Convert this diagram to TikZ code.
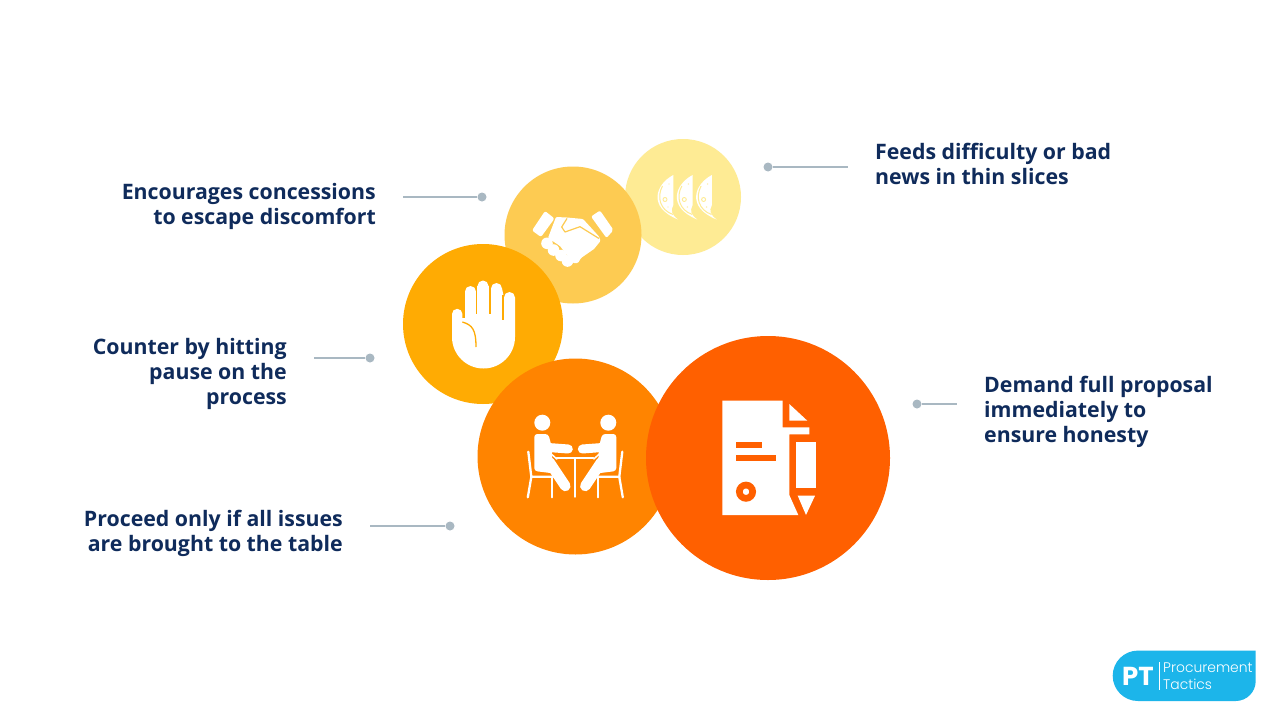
\documentclass[tikz,border=0pt]{standalone}
\usepackage{fontspec}
\setmainfont{Open Sans}
\newfontfamily\logofont{Poppins}
\newfontfamily\logolight{Poppins Light}

\definecolor{navy}{HTML}{0F2B5B}
\definecolor{dotgrey}{HTML}{A9B8C2}
\definecolor{paleyellow}{HTML}{FEEB94}
\definecolor{softorange}{HTML}{FDCB52}
\definecolor{amber}{HTML}{FFAB03}
\definecolor{midorange}{HTML}{FF8400}
\definecolor{deeporange}{HTML}{FF6000}
\definecolor{logoblue}{HTML}{1CB5EA}

\tikzset{
  disc/.style = {circle, inner sep=0pt, minimum size=#1},
  point/.style = {circle, fill=dotgrey, minimum size=9pt, inner sep=0pt},
  lead/.style = {draw=dotgrey, line width=1.5pt},
  caption/.style = {text=navy, inner sep=0pt, font=\fontsize{21.3}{25}\selectfont\bfseries},
  limb/.style = {draw=white, line width=#1, line cap=round},
  stick/.style = {draw=white, line width=2.3pt, line cap=round}
}

\begin{document}
\begin{tikzpicture}[x=1pt,y=-1pt]

\useasboundingbox (0,0) rectangle (1280,720);
\fill[white] (0,0) rectangle (1280,720);

% discs
\node[disc=116pt, fill=paleyellow] (D1) at (683,197) {};
\node[disc=137pt, fill=softorange] (D2) at (573,235) {};
\node[disc=160pt, fill=amber] (D3) at (483,324) {};
\node[disc=196pt, fill=midorange] (D4) at (575.5,456.5) {};
\node[disc=244pt, fill=deeporange] (D5) at (768,458) {};

% slices
\foreach \dx in {0,19.3,38.6} {
  \begin{scope}[xshift=\dx pt]
    \fill[white] (673.3,175) .. controls (656,184) and (647,207) .. (678,219.5)
      .. controls (672,215) and (670,211) .. (673.3,205) -- cycle;
    \draw[paleyellow, line width=1pt] (662.5,186) .. controls (656.5,197) and (660,210) .. (673,214.5);
    \draw[paleyellow, line width=0.9pt] (665,199.5) circle (2);
    \fill[paleyellow] (669,184) circle (0.7);
    \fill[paleyellow] (668,207) circle (0.7);
  \end{scope}
}

% handshake
\fill[white, rounded corners=2pt] (545,211) -- (554.5,218.5) -- (541,237) -- (532,230.5) -- cycle;
\fill[white, rounded corners=2pt] (591,216.5) -- (600,210.5) -- (613.5,230) -- (606.5,238) -- cycle;
\fill[white, rounded corners=1pt] (556,217) -- (567,217.5) -- (583,219) -- (599,236.5) -- (600.5,241)
  -- (594,249) -- (581,258) -- (578,263) -- (573,263) -- (560,246) -- (548,238) -- cycle;
\foreach \cx/\cy in {547/243.3, 553.5/250, 561/255.5, 567.5/261} {
  \fill[white] (\cx,\cy) circle (5.8);
}
\draw[softorange, line width=1.2pt, line join=round] (567,218.5) -- (561.7,227) -- (565,232) -- (580,226.7) -- (599,238.5);

% hand
\fill[white] (452,314) arc[start angle=180, end angle=360, radius=5.2] -- (462.4,318)
  -- (465,318) -- (465,291.5) arc[start angle=180, end angle=360, radius=5.5] -- (476,286)
  -- (477.5,286) arc[start angle=180, end angle=360, radius=5.5] -- (491,288.5)
  arc[start angle=180, end angle=360, radius=5.5] -- (504,297.5)
  arc[start angle=180, end angle=360, radius=5.5] -- (515,337)
  arc[start angle=0, end angle=180, radius=31.5] -- cycle;
\draw[amber, line width=1.3pt] (476.7,285) -- (476.7,314);
\draw[amber, line width=1.3pt] (490,285) -- (490,314);
\draw[amber, line width=1.3pt] (503,295) -- (503,320);
\draw[amber, line width=1.3pt] (462.4,322) .. controls (472,325) and (476,329) .. (476,347);

% table
\foreach \s in {1,-1} {
  \begin{scope}[shift={(575.3,0)}, xscale=\s]
    \fill[white] (-33,422.7) circle (8);
    \fill[white, rounded corners=3pt] (-41,434) -- (-27,434) -- (-24,445) -- (-23,460) -- (-17,474) -- (-41,471) -- cycle;
    \draw[limb=9pt] (-27,447.5) -- (-7,449);
    \draw[limb=10.5pt] (-26,462) -- (-10,486);
    \draw[stick] (-47,451.7) -- (-44,476.7) -- (-22,476.7);
    \draw[stick] (-44,477) -- (-47.5,497.3);
    \draw[stick] (-23,477) -- (-23,497.3);
    \draw[stick, line width=1.5pt] (-24,454) -- (-18.5,459);
  \end{scope}
}
\draw[stick] (556.7,458.3) -- (593.3,458.3);
\draw[stick] (575,458.3) -- (575,496.7);

% document
\fill[white] (722.3,400.7) -- (782.7,400.7) -- (782.7,427.3) -- (809.3,427.3) -- (809.3,434.3)
  -- (789.3,434.3) -- (789.3,495) -- (798.3,515) -- (722.3,515) -- cycle;
\fill[white] (789.3,404) -- (807.3,420.7) -- (789.3,420.7) -- cycle;
\fill[white] (796,441.7) rectangle (816,488.3);
\fill[white] (797.7,495.7) -- (815,495.7) -- (806,515) -- cycle;
\fill[deeporange] (736,441.7) rectangle (762.3,448);
\fill[deeporange] (736,455) rectangle (776,461.3);
\draw[deeporange, line width=6.7pt] (746,491.7) circle (6.65);

% leads
\node[point] (P1) at (768,167) {};
\coordinate (E1) at (848,167);
\node[point] (P2) at (482,197) {};
\coordinate (E2) at (403,197);
\node[point] (P3) at (370,358) {};
\coordinate (E3) at (314,358);
\node[point] (P4) at (450,526) {};
\coordinate (E4) at (370,526);
\node[point] (P5) at (917,404) {};
\coordinate (E5) at (957,404);
\draw[lead] (P1) -- (E1);
\draw[lead] (P2) -- (E2);
\draw[lead] (P3) -- (E3);
\draw[lead] (P4) -- (E4);
\draw[lead] (P5) -- (E5);

% captions
\node[caption, anchor=west, align=left] (T1) at (875,164) {Feeds difficulty or bad\\news in thin slices};
\node[caption, anchor=east, align=right] (T2) at (376,206.3) {Encourages concessions\\to escape discomfort};
\node[caption, anchor=east, align=right] (T3) at (287,374.3) {Counter by hitting\\pause on the\\process};
\node[caption, anchor=east, align=right] (T4) at (343,533.5) {Proceed only if all issues\\are brought to the table};
\node[caption, anchor=west, align=left] (T5) at (984,411.5) {Demand full proposal\\immediately to\\ensure honesty};

% logo
\fill[logoblue] (1137.9,650.7) -- (1255.7,650.7) -- (1255.7,681) arc[start angle=0, end angle=90, radius=20]
  -- (1137.9,701) arc[start angle=90, end angle=180, radius=25.2] arc[start angle=180, end angle=270, radius=25.2] -- cycle;
\node[text=white, font=\logofont\fontsize{26}{26}\selectfont\bfseries, inner sep=0pt] (L1) at (1138,676) {PT};
\coordinate (B1) at (1159.5,662);
\coordinate (B2) at (1159.5,690);
\draw[white, line width=0.5pt] (B1) -- (B2);
\node[text=white, font=\logolight\fontsize{13.9}{17}\selectfont, anchor=west, align=left, inner sep=0pt] (L2) at (1163,676.5) {Procurement\\Tactics};

\end{tikzpicture}
\end{document}
